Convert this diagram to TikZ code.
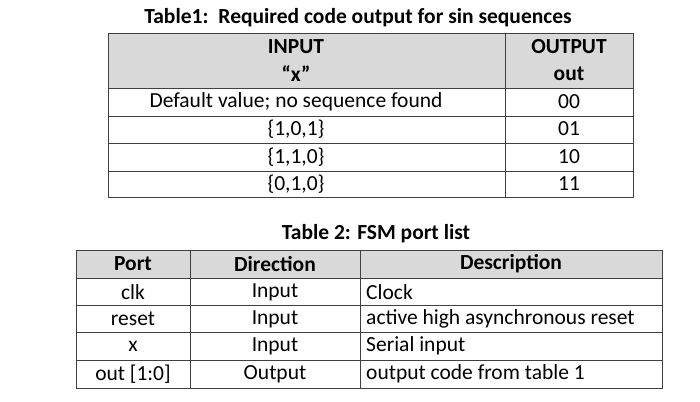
\documentclass[tikz,border=0pt]{standalone}
\usepackage{fontspec}
\setmainfont{Carlito}
\begin{document}
\begin{tikzpicture}[x=1pt,y=-1pt,
  txt/.style={inner sep=0pt,anchor=center,font=\fontsize{21.5}{24}\selectfont},
  hd/.style={txt,font=\fontsize{21.5}{24}\selectfont\bfseries},
  lt/.style={txt,anchor=west},
  grid/.style={draw=black!75,line width=0.9pt},
  hdfill/.style={fill=black!15}]
\useasboundingbox (0,0) rectangle (700,401);
% Table 1
\node[hd] (t1) at (358,18) {Table1:\, Required code output for sin sequences};
\fill[hdfill] (108,33) rectangle (633,88);
\draw[grid] (108,33) rectangle (633,197);
\foreach \y in {88,116,143,171} \draw[grid] (108,\y) -- (633,\y);
\draw[grid] (505,33) -- (505,197);
\node[hd] (h1a) at (296,47) {INPUT};
\node[hd] (h1b) at (296,74) {“x”};
\node[hd] (h2a) at (569,47) {OUTPUT};
\node[hd] (h2b) at (569,74) {out};
\node[txt] (r1a) at (296,102) {Default value; no sequence found};
\node[txt] (r1b) at (569,102) {00};
\node[txt] (r2a) at (296,129) {\{1,0,1\}};
\node[txt] (r2b) at (569,129) {01};
\node[txt] (r3a) at (296,157) {\{1,1,0\}};
\node[txt] (r3b) at (569,157) {10};
\node[txt] (r4a) at (296,184) {\{0,1,0\}};
\node[txt] (r4b) at (569,184) {11};
% Table 2
\node[hd] (t2) at (376,234) {Table 2: FSM port list};
\fill[hdfill] (76,250) rectangle (662,278);
\draw[grid] (76,250) rectangle (662,388);
\foreach \y in {278,305,332,360} \draw[grid] (76,\y) -- (662,\y);
\draw[grid] (190,250) -- (190,388);
\draw[grid] (360,250) -- (360,388);
\node[hd] (p0) at (133,264) {Port};
\node[hd] (d0) at (275,264) {Direction};
\node[hd] (e0) at (511,264) {Description};
\node[txt] (p1) at (133,292) {clk};
\node[txt] (d1) at (275,292) {Input};
\node[lt] (e1) at (366,292) {Clock};
\node[txt] (p2) at (133,319) {reset};
\node[txt] (d2) at (275,319) {Input};
\node[lt] (e2) at (366,319) {active high asynchronous reset};
\node[txt] (p3) at (133,346) {x};
\node[txt] (d3) at (275,346) {Input};
\node[lt] (e3) at (366,346) {Serial input};
\node[txt] (p4) at (133,374) {out [1:0]};
\node[txt] (d4) at (275,374) {Output};
\node[lt] (e4) at (366,374) {output code from table 1};
\end{tikzpicture}
\end{document}
